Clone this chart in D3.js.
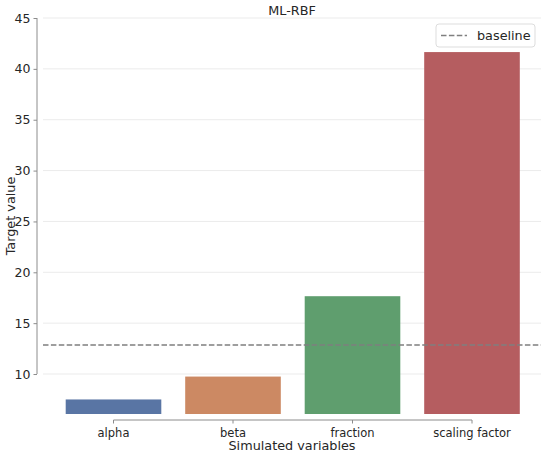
<!DOCTYPE html>
<html>
<head>
<meta charset="utf-8">
<script src="https://cdn.jsdelivr.net/npm/d3@7"></script>
<style>
  body { margin: 0; background: #fff; }
  text { font-family: "DejaVu Sans", sans-serif; fill: #262626; }
</style>
</head>
<body>
<script>
var width = 550, height = 457;

var categories = ["alpha", "beta", "fraction", "scaling factor"];
var values = [7.5, 9.75, 17.65, 41.65];
var colors = ["#5975a4", "#cc8963", "#5f9e6e", "#b55d60"];
var baseline = 12.85;
var yTicks = [10, 15, 20, 25, 30, 35, 40, 45];

var plotLeft = 43, plotRight = 541;
var x = d3.scaleBand()
	.domain(categories)
	.range([53.75, 531.75])
	.paddingInner(0.2)
	.paddingOuter(0.1);

var y = d3.scaleLinear()
	.domain([6.07, 45])
	.range([414, 18]);

var svg = d3.select("body")
	.append("svg")
	.attr("width", width)
	.attr("height", height);

// grid
svg.selectAll(".grid")
	.data(yTicks)
	.enter().append("line")
	.attr("x1", plotLeft)
	.attr("x2", plotRight)
	.attr("y1", d => y(d))
	.attr("y2", d => y(d))
	.style("stroke", "#ebebeb")
	.style("stroke-width", 1);

// bars
svg.selectAll(".bar")
	.data(values)
	.enter().append("rect")
	.attr("x", (d, i) => x(categories[i]))
	.attr("y", d => y(d))
	.attr("width", x.bandwidth())
	.attr("height", d => y(y.domain()[0]) - y(d))
	.style("fill", (d, i) => colors[i]);

// baseline
svg.append("line")
	.attr("x1", plotLeft)
	.attr("x2", plotRight)
	.attr("y1", y(baseline))
	.attr("y2", y(baseline))
	.style("stroke", "#7f7f7f")
	.style("stroke-width", 1.5)
	.style("stroke-dasharray", "5.5,2.4");

// y axis (trimmed, offset)
var yAxis = d3.axisLeft(y).tickValues(yTicks).tickSize(3.5).tickPadding(3);
var gy = svg.append("g")
	.attr("transform", "translate(37,0)")
	.call(yAxis);
gy.select(".domain").attr("d", `M0,${y(10)}V${y(45)}`).style("stroke", "#8c8c8c");
gy.selectAll(".tick line").style("stroke", "#8c8c8c");
gy.selectAll(".tick text").style("font-size", "12.5px").style("fill", "#262626");

// x axis (trimmed, offset)
var xAxis = d3.axisBottom(x).tickSize(3.5).tickPadding(5);
var gx = svg.append("g")
	.attr("transform", "translate(0,420)")
	.call(xAxis);
var c0 = x(categories[0]) + x.bandwidth() / 2;
var c3 = x(categories[3]) + x.bandwidth() / 2;
gx.select(".domain").attr("d", `M${c0},0H${c3}`).style("stroke", "#8c8c8c");
gx.selectAll(".tick line").style("stroke", "#8c8c8c");
gx.selectAll(".tick text").style("font-size", "11.5px").style("fill", "#262626");

// labels
svg.append("text")
	.attr("x", (plotLeft + plotRight) / 2)
	.attr("y", 450)
	.attr("text-anchor", "middle")
	.style("font-size", "12.8px")
	.text("Simulated variables");

svg.append("text")
	.attr("transform", `translate(15,${(y(10) + y(45)) / 2 + 20}) rotate(-90)`)
	.attr("text-anchor", "middle")
	.style("font-size", "12.8px")
	.text("Target value");

svg.append("text")
	.attr("x", (plotLeft + plotRight) / 2)
	.attr("y", 15)
	.attr("text-anchor", "middle")
	.style("font-size", "12.8px")
	.text("ML-RBF");

// legend
var lg = svg.append("g").attr("transform", "translate(436,24)");
lg.append("rect")
	.attr("width", 99).attr("height", 23).attr("rx", 3)
	.style("fill", "#fff").style("stroke", "#dddddd");
lg.append("line")
	.attr("x1", 5).attr("x2", 31).attr("y1", 11.5).attr("y2", 11.5)
	.style("stroke", "#7f7f7f").style("stroke-width", 1.5)
	.style("stroke-dasharray", "5.5,2.4");
lg.append("text")
	.attr("x", 41).attr("y", 16)
	.style("font-size", "12.8px")
	.text("baseline");
</script>
</body>
</html>
